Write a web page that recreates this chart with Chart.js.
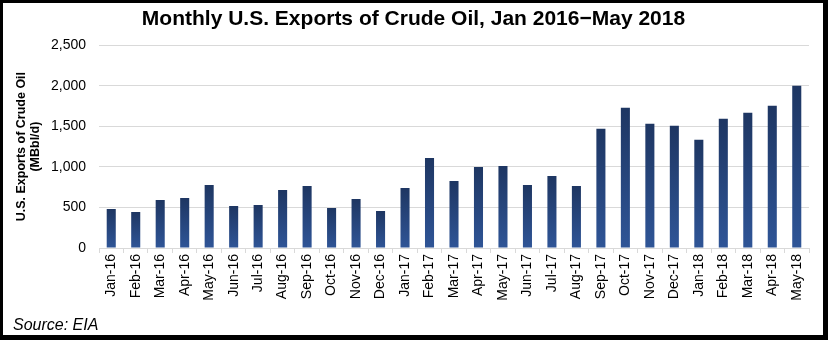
<!DOCTYPE html>
<html>
<head>
<meta charset="utf-8">
<script src="https://cdn.jsdelivr.net/npm/chart.js@4/dist/chart.umd.min.js"></script>
<style>
  html, body { margin: 0; padding: 0; background: #000; }
  #frame {
    position: absolute; left: 3px; top: 3px;
    width: 820px; height: 332px; background: #fff; overflow: hidden;
  }
  #myChart { position: absolute; left: 0; top: 0; }
  #source {
    position: absolute; left: 10px; top: 313px;
    font: italic 16px "Liberation Sans", Arial, sans-serif; color: #000;
  }
</style>
</head>
<body>
<div id="frame">
  <canvas id="myChart" width="820" height="332"></canvas>
  <div id="source">Source: EIA</div>
</div>
<script>
// monthly crude exports, thousand barrels per day
const months = ["Jan-16","Feb-16","Mar-16","Apr-16","May-16","Jun-16","Jul-16",
  "Aug-16","Sep-16","Oct-16","Nov-16","Dec-16","Jan-17","Feb-17","Mar-17",
  "Apr-17","May-17","Jun-17","Jul-17","Aug-17","Sep-17","Oct-17","Nov-17",
  "Dec-17","Jan-18","Feb-18","Mar-18","Apr-18","May-18"];

const exports_mbbld = [482, 445, 593, 617, 778, 519, 531, 716, 765, 494,
  605, 457, 741, 1111, 827, 1000, 1012, 778, 889, 765,
  1469, 1728, 1531, 1506, 1333, 1593, 1667, 1753, 2000];

const yTicks = [0, 500, 1000, 1500, 2000, 2500];

const BAR_TOP = 'rgb(30, 54, 98)';
const BAR_BOTTOM = 'rgb(47, 85, 151)';
const GRID = '#d9d9d9';
const FONT = '"Liberation Sans", Arial, sans-serif';

// each bar fades from navy at the top to lighter blue at the base
function barFill(ctx) {
  const chart = ctx.chart;
  if (!chart.chartArea || ctx.type !== 'data') return BAR_BOTTOM;
  const y = chart.scales.y;
  const top = y.getPixelForValue(ctx.raw);
  const base = y.getPixelForValue(0);
  if (!isFinite(top) || base - top < 1) return BAR_BOTTOM;
  const g = chart.ctx.createLinearGradient(0, top, 0, base);
  g.addColorStop(0, BAR_TOP);
  g.addColorStop(1, BAR_BOTTOM);
  return g;
}

const data = {
  labels: months,
  datasets: [{
    label: 'U.S. Exports of Crude Oil',
    data: exports_mbbld,
    backgroundColor: barFill,
    borderWidth: 0,
    categoryPercentage: 1,
    barPercentage: 0.37
  }]
};

const config = {
  type: 'bar',
  data: data,
  options: {
    responsive: false,
    animation: false,
    // equal side padding keeps the title centred on the frame
    layout: { padding: { left: 15, right: 14, top: 0, bottom: 0 } },
    plugins: {
      legend: { display: false },
      tooltip: { enabled: false },
      title: {
        display: true,
        text: 'Monthly U.S. Exports of Crude Oil, Jan 2016\u2212May 2018',
        color: '#000',
        font: { family: FONT, size: 21, weight: 'bold' },
        padding: { top: 4, bottom: 13 }
      }
    },
    scales: {
      x: {
        grid: {
          offset: true,
          drawOnChartArea: false,
          drawTicks: true,
          tickLength: 5,
          color: GRID
        },
        border: { display: true, color: GRID },
        ticks: {
          minRotation: 90,
          maxRotation: 90,
          autoSkip: false,
          padding: 1,
          color: '#000',
          font: { family: FONT, size: 14 }
        },
        afterFit: function(scale) { scale.height = 87; }
      },
      y: {
        min: 0,
        max: 2500,
        afterBuildTicks: function(scale) {
          scale.ticks = yTicks.map(v => ({ value: v }));
        },
        grid: { color: GRID, drawTicks: false, lineWidth: 1 },
        border: { display: false },
        ticks: {
          padding: 13,
          color: '#000',
          font: { family: FONT, size: 14 },
          callback: v => v.toLocaleString('en-US')
        },
        title: {
          display: true,
          text: ['U.S. Exports of Crude Oil', '(MBbl/d)'],
          color: '#000',
          font: { family: FONT, size: 12.5, weight: 'bold', lineHeight: 1.1 },
          padding: { top: -3, bottom: 0 }
        },
        afterFit: function(scale) { scale.width = 81; }
      }
    }
  }
};

const myChart = new Chart(document.getElementById('myChart'), config);
</script>
</body>
</html>
